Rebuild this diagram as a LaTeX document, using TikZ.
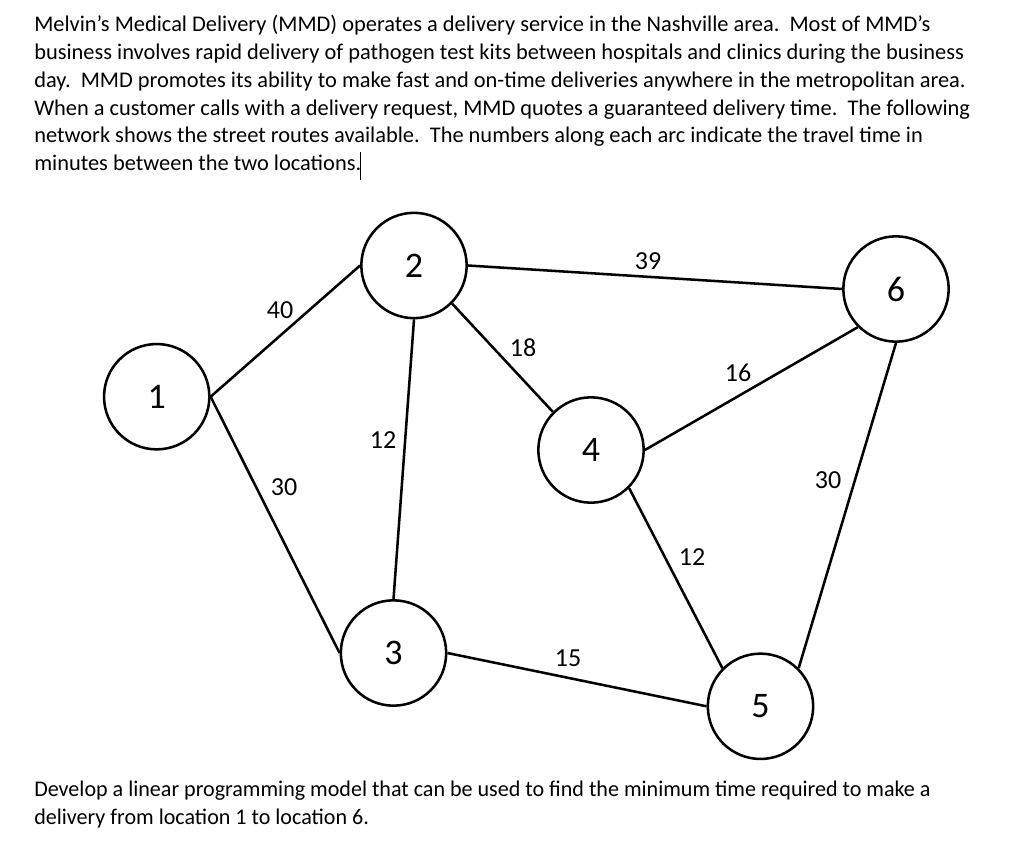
\documentclass[tikz,border=0pt]{standalone}
\usepackage{fontspec}
\setmainfont{Carlito}
\begin{document}
\begin{tikzpicture}[x=0.75pt,y=-0.75pt,
  vertex/.style={circle,draw,line width=1.9pt,minimum size=79pt,inner sep=0pt,font=\fontsize{27}{30}\selectfont},
  arc/.style={line width=1.9pt},
  wlabel/.style={font=\fontsize{19.5}{22}\selectfont,inner sep=0pt},
  para/.style={anchor=base west,inner sep=0pt,font=\fontsize{16.8}{20}\selectfont}]
\useasboundingbox (0,0) rectangle (1024,866);
\fill[white] (0,0) rectangle (1024,866);

\node[para] (t1) at (34,31.7) {Melvin’s Medical Delivery (MMD) operates a delivery service in the Nashville area.\ \ Most of MMD’s};
\node[para] (t2) at (34,59.5) {business involves rapid delivery of pathogen test kits between hospitals and clinics during the business};
\node[para] (t3) at (34,87.3) {day.\ \ MMD promotes its ability to make fast and on-time deliveries anywhere in the metropolitan area.};
\node[para] (t4) at (34,115.1) {When a customer calls with a delivery request, MMD quotes a guaranteed delivery time.\ \ The following};
\node[para] (t5) at (34,142.9) {network shows the street routes available.\ \ The numbers along each arc indicate the travel time in};
\node[para] (t6) at (34,170.7) {minutes between the two locations.};
\coordinate (c1) at ([xshift=-0.6pt]t6.east |- 0,152);
\coordinate (c2) at ([xshift=-0.6pt]t6.east |- 0,180);
\draw[line width=0.9pt] (c1) -- (c2);

\node[para,xscale=0.985] (b1) at (34,796) {Develop a linear programming model that can be used to find the minimum time required to make a};
\node[para,xscale=0.985] (b2) at (34,824) {delivery from location 1 to location 6.};

\node[vertex] (n1) at (156.7,396.7) {1};
\node[vertex] (n2) at (414,265.5) {2};
\node[vertex] (n3) at (393.5,653) {3};
\node[vertex] (n4) at (591,450) {4};
\node[vertex] (n5) at (760.5,706.3) {5};
\node[vertex] (n6) at (896,289) {6};

\draw[arc] (n1.east) -- (n2.west);
\draw[arc] (n1.east) -- (n3.west);
\draw[arc] (n2.south) -- (n3.north);
\draw[arc] (n2.south east) -- (n4.north west);
\draw[arc] (n2.east) -- (n6.west);
\draw[arc] (n4.east) -- (n6.south west);
\draw[arc] (n4.south east) -- (n5.north west);
\draw[arc] (n5.north east) -- (n6.south);
\draw[arc] (n3.east) -- (n5.west);

\node[wlabel] (l12) at (280,310) {40};
\node[wlabel] (l13) at (284,487) {30};
\node[wlabel] (l23) at (383,440) {12};
\node[wlabel] (l24) at (523,348) {18};
\node[wlabel] (l26) at (648,261) {39};
\node[wlabel] (l46) at (738,373) {16};
\node[wlabel] (l45) at (692,557) {12};
\node[wlabel] (l35) at (568,658) {15};
\node[wlabel] (l56) at (828,480) {30};
\end{tikzpicture}
\end{document}
